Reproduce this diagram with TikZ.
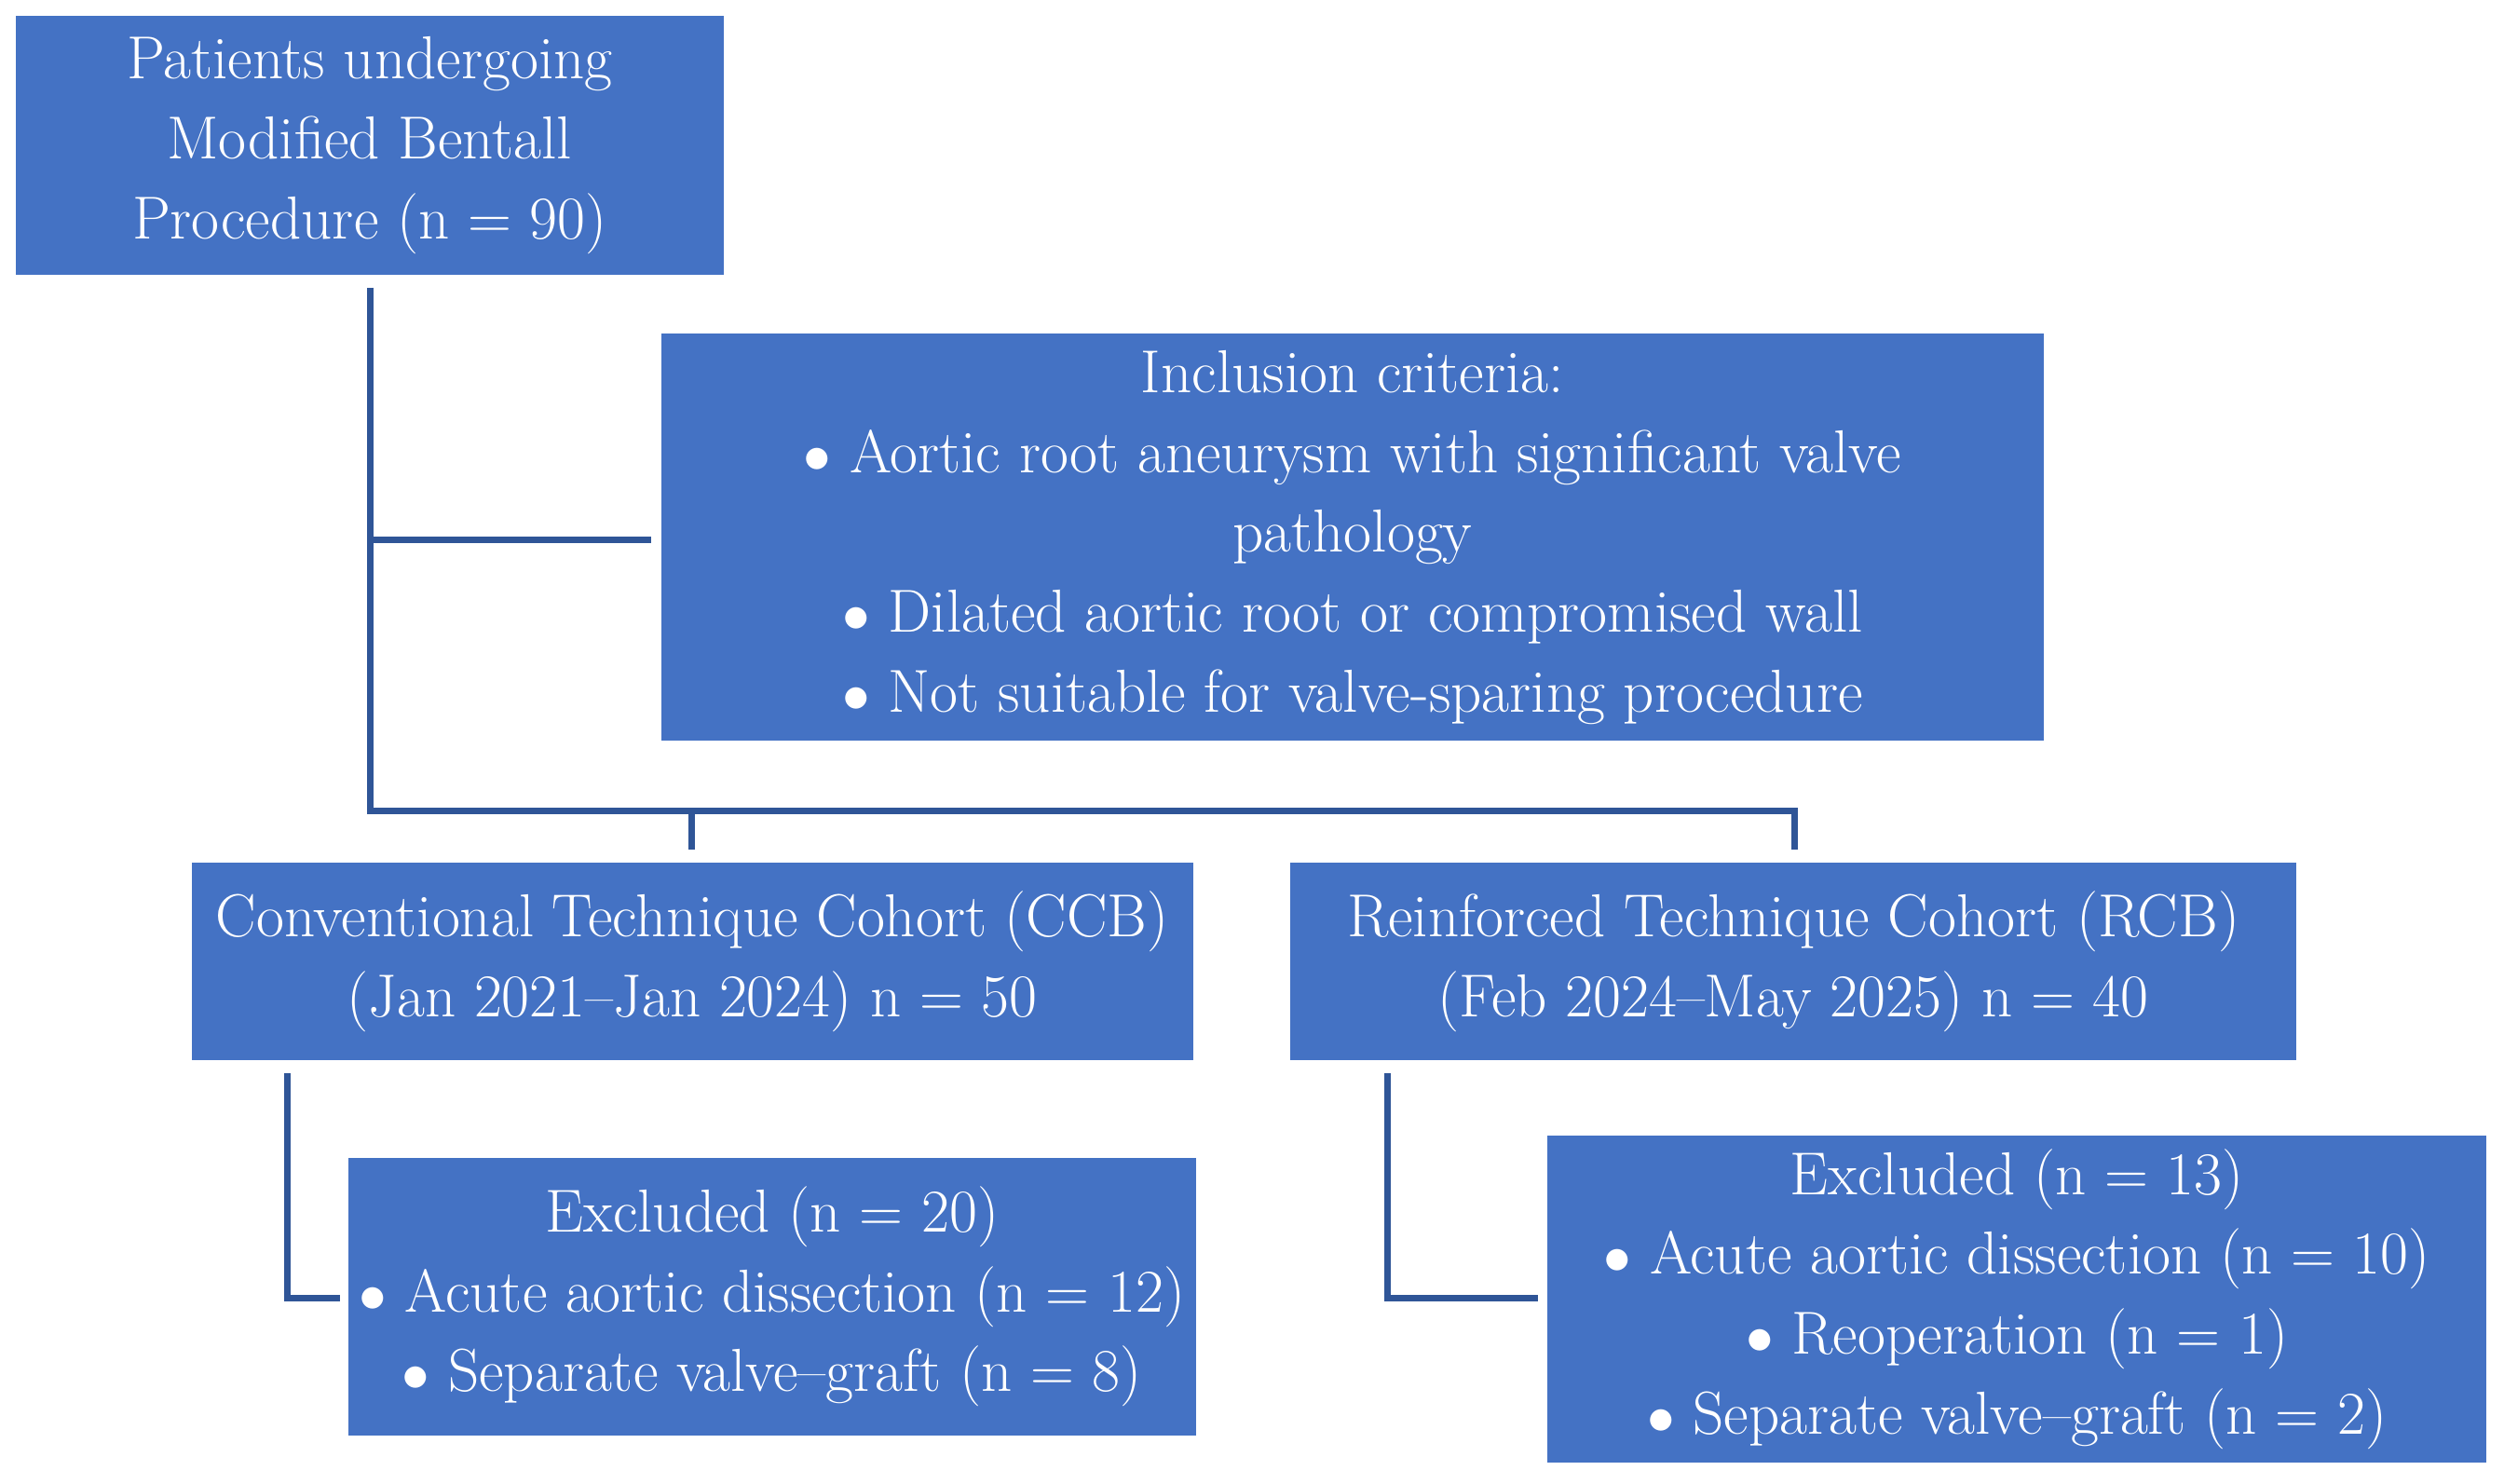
\documentclass[tikz,border=0pt]{standalone}
\begin{document}
\begin{tikzpicture}[x=0.5pt,y=-0.5pt,
  box/.style={fill={rgb,255:red,68;green,114;blue,196},text=white,align=center,inner sep=0pt,font=\fontsize{19}{25}\selectfont},
  ln/.style={draw={rgb,255:red,47;green,85;blue,151},line width=2pt}]
\useasboundingbox (0,0) rectangle (1568,929);
\node[box,minimum width=443*0.5pt,minimum height=162*0.5pt] (top) at (231.5,91) {Patients undergoing\\Modified Bentall\\Procedure (n = 90)};
\node[box,minimum width=866*0.5pt,minimum height=255*0.5pt] (inc) at (847,336.5) {Inclusion criteria:\\$\bullet$ Aortic root aneurysm with significant valve\\pathology\\$\bullet$ Dilated aortic root or compromised wall\\$\bullet$ Not suitable for valve-sparing procedure};
\node[box,minimum width=627*0.5pt,minimum height=124*0.5pt] (ccb) at (433.5,602) {Conventional Technique Cohort (CCB)\\(Jan 2021--Jan 2024) n = 50};
\node[box,minimum width=630*0.5pt,minimum height=124*0.5pt] (rcb) at (1123,602) {Reinforced Technique Cohort (RCB)\\(Feb 2024--May 2025) n = 40};
\node[box,minimum width=531*0.5pt,minimum height=174*0.5pt] (ex1) at (483.5,812) {Excluded (n = 20)\\$\bullet$ Acute aortic dissection (n = 12)\\$\bullet$ Separate valve--graft (n = 8)};
\node[box,minimum width=588*0.5pt,minimum height=205*0.5pt] (ex2) at (1263,813.5) {Excluded (n = 13)\\$\bullet$ Acute aortic dissection (n = 10)\\$\bullet$ Reoperation (n = 1)\\$\bullet$ Separate valve--graft (n = 2)};
\coordinate (a) at (232,180);
\coordinate (b) at (232,508);
\coordinate (c) at (232,338);
\coordinate (d) at (1124,508);
\coordinate (e) at (433,508);
\draw[ln] (a) -- (b) -- (d) -- (1124,532);
\draw[ln] (c) -- (408,338);
\draw[ln] (e) -- (433,532);
\draw[ln] (180,672) -- (180,813) -- (213,813);
\draw[ln] (869,672) -- (869,813) -- (963,813);
\end{tikzpicture}
\end{document}
